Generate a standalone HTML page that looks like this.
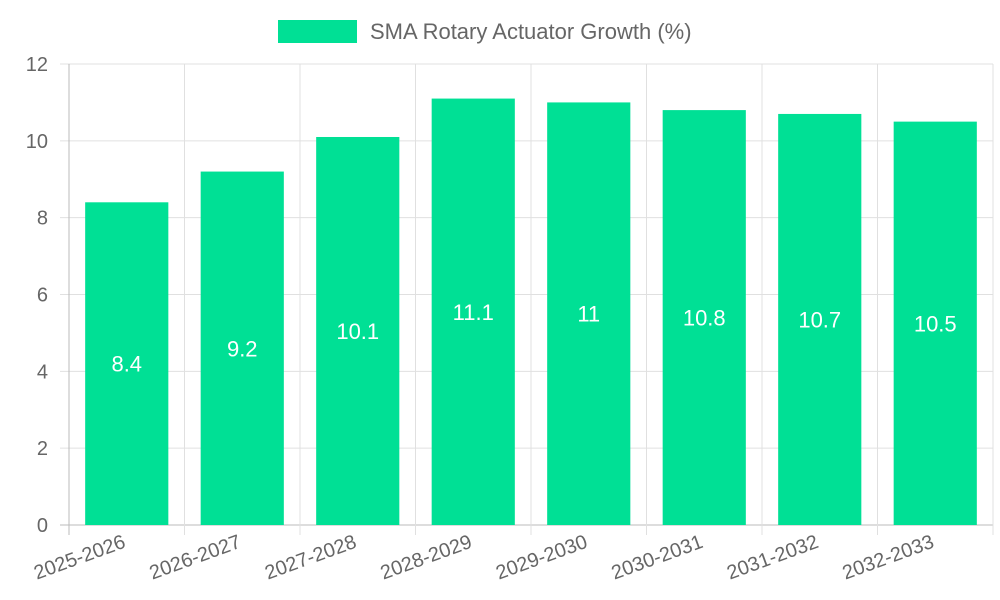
<!DOCTYPE html>
<html><head><meta charset="utf-8"><style>
html,body{margin:0;padding:0;background:#fff;}
svg{display:block;font-family:"Liberation Sans",Arial,sans-serif;}
</style></head><body>
<svg id="chart" width="1000" height="600">
<g id="grid"></g>
<g id="bars"></g>
<g id="labels"></g>
<g id="axes"></g>
<g>
<rect x="278" y="20" width="79" height="23" fill="#00e095"/>
<text x="370" y="39" font-size="22" fill="#666">SMA Rotary Actuator Growth (%)</text>
</g>
</svg>
<script>
const categories=["2025-2026","2026-2027","2027-2028","2028-2029","2029-2030","2030-2031","2031-2032","2032-2033"];
const values=[8.4,9.2,10.1,11.1,11,10.8,10.7,10.5];
const yTicks=[0,2,4,6,8,10,12];
const NS="http://www.w3.org/2000/svg";
const L=69,R=993,T=64,B=525,yMax=12;
const bw=(R-L)/categories.length;
const y=v=>B-(v/yMax)*(B-T);
const x=i=>L+i*bw;
function mk(tag,attrs,parent){const e=document.createElementNS(NS,tag);for(const k in attrs)e.setAttribute(k,attrs[k]);document.getElementById(parent).appendChild(e);return e;}
yTicks.forEach(t=>{
 const g=mk("line",{x1:60,x2:R,y1:y(t),y2:y(t),stroke:t===0?"#bbb":"#e0e0e0","stroke-width":1},"grid");
 
 
 const tx=mk("text",{x:48,y:y(t)+7,"font-size":20,fill:"#666","text-anchor":"end"},"axes");
 tx.textContent=t;
 
 
});
for(let i=0;i<=categories.length;i++){
 const g=mk("line",{x1:x(i),x2:x(i),y1:T,y2:B+10,stroke:i===0?"#bbb":"#e0e0e0","stroke-width":1},"grid");
 
 
}
categories.forEach((c,i)=>{
 const cx=x(i)+bw/2, w=bw*0.72;
 const r=mk("rect",{x:cx-w/2,y:y(values[i]),width:w,height:B-y(values[i]),fill:"#00e095"},"bars");
 
 
 const lt=mk("text",{x:cx,y:(y(values[i])+B)/2+8,"font-size":22,fill:"#fff","text-anchor":"middle"},"labels");
 lt.textContent=values[i];
 
 
 const xt=mk("text",{x:cx,y:B+22,"font-size":20,fill:"#666","text-anchor":"end",transform:`rotate(-20 ${cx} ${B+22})`},"axes");
 xt.textContent=c;
 
 
});
</script>
</body></html>
